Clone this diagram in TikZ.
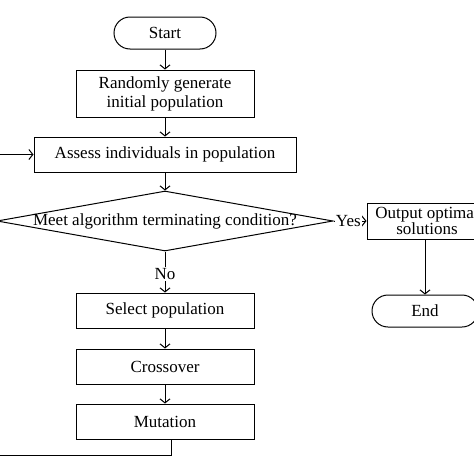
\documentclass[tikz,border=0pt]{standalone}
\usepackage{fontspec}
\setmainfont{Liberation Serif}
\usetikzlibrary{shapes.geometric,arrows.meta}

\tikzset{
  stepbox/.style={rectangle,draw,line width=1pt,align=center,inner sep=0pt},
  termbox/.style={rectangle,draw,line width=1pt,rounded corners=16pt,inner sep=0pt,
    minimum height=32pt},
  cond/.style={diamond,draw,line width=1pt,aspect=5.6,inner sep=0pt,
    minimum width=336pt,minimum height=60pt},
  flow/.style={-{Straight Barb[length=4pt,width=10pt]},line width=1pt},
  tag/.style={fill=white,inner sep=1pt}
}

\begin{document}
\begin{tikzpicture}[x=1pt,y=-1pt,font=\fontsize{17pt}{19pt}\selectfont]
\useasboundingbox (0,0) rectangle (474,474);
\clip (0,0) rectangle (474,474);

\node [termbox,minimum width=102pt] (start) at (165,33) {Start};
\node [stepbox,minimum width=178pt,minimum height=47pt] (init) at (165,93.5) {Randomly generate\\initial population};
\node [stepbox,minimum width=262pt,minimum height=35pt] (assess) at (165,154.5) {Assess individuals in population};
\node [cond] (check) at (165,221) {};
\node at (check.center) {Meet algorithm terminating condition?};
\node [stepbox,minimum width=120pt,minimum height=36pt] (output) at (427,221) {Output optimal\\[-3pt]solutions};
\node [termbox,minimum width=106pt] (end) at (425,311) {End};
\node [stepbox,minimum width=178pt,minimum height=35pt] (select) at (165,310.5) {Select population};
\node [stepbox,minimum width=178pt,minimum height=35pt] (cross) at (165,366.5) {Crossover};
\node [stepbox,minimum width=178pt,minimum height=35pt] (mut) at (165,421.5) {Mutation};
\coordinate (back) at (-10,455);

\draw [flow] (start) -- (init);
\draw [flow] (init) -- (assess);
\draw [flow] (assess) -- (check);
\draw [flow] (check.east) -- node [tag,pos=0.45] {Yes} (output);
\draw [flow] (check.south) -- node [tag,pos=0.55] {No} (select);
\draw [flow] (select) -- (cross);
\draw [flow] (cross) -- (mut);
\draw [flow] (output.south -| end) -- (end);
\draw [flow] ([xshift=6pt]mut.south) |- (back) |- (assess.west);
\end{tikzpicture}
\end{document}
